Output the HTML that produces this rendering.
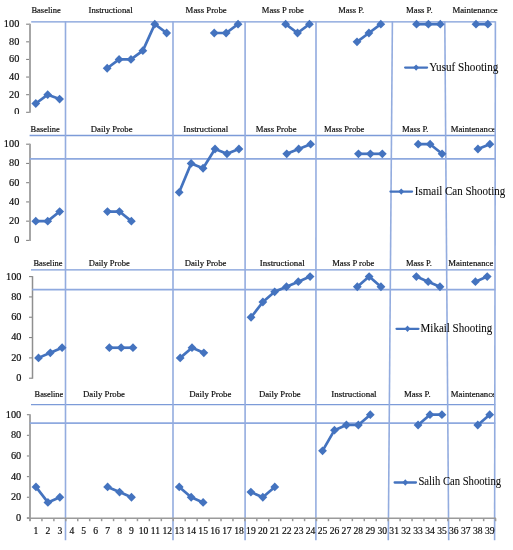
<!DOCTYPE html>
<html><head><meta charset="utf-8"><title>Shooting chart</title>
<style>
html,body{margin:0;padding:0;background:#fff;}
svg{display:block;}
text{font-family:"Liberation Serif",serif;fill:#0a0a0a;stroke:#111;stroke-width:0.18px;}
.ph{font-size:8.6px;}
.yl{font-size:10.3px;}
.xl{font-size:9.6px;}
.lg{font-size:11.6px;stroke-width:0.08px;}
</style></head><body>
<svg width="513" height="550" viewBox="0 0 513 550">
<defs><clipPath id="cl"><rect x="0" y="0" width="494.6" height="550"/></clipPath><clipPath id="yc0"><rect x="0" y="0" width="513" height="113.9"/></clipPath></defs>
<rect width="513" height="550" fill="#fff"/>
<g stroke="#858585" stroke-width="1.1" fill="none"><line x1="26.1" y1="112.3" x2="30" y2="112.3"/><line x1="26.1" y1="94.68" x2="30" y2="94.68"/><line x1="26.1" y1="77.06" x2="30" y2="77.06"/><line x1="26.1" y1="59.44" x2="30" y2="59.44"/><line x1="26.1" y1="41.82" x2="30" y2="41.82"/><line x1="26.1" y1="24.2" x2="30" y2="24.2"/><line x1="30" y1="23.7" x2="30" y2="112.8" stroke="#a6a6a6" stroke-width="2"/></g>
<g clip-path="url(#yc0)"><text class="yl" x="19.3" y="115.2" text-anchor="end">0</text><text class="yl" x="19.3" y="97.58" text-anchor="end">20</text><text class="yl" x="19.3" y="79.96" text-anchor="end">40</text><text class="yl" x="19.3" y="62.34" text-anchor="end">60</text><text class="yl" x="19.3" y="44.72" text-anchor="end">80</text><text class="yl" x="19.3" y="27.1" text-anchor="end">100</text></g>
<line x1="31.2" y1="21.9" x2="495.3" y2="21.9" stroke="#7c9bd8" stroke-width="1.4"/>
<g><text class="ph" x="31.4" y="12.7" textLength="29.3" lengthAdjust="spacingAndGlyphs">Baseline</text><text class="ph" x="88.5" y="12.7" textLength="44.1" lengthAdjust="spacingAndGlyphs">Instructional</text><text class="ph" x="185.6" y="12.7" textLength="41.1" lengthAdjust="spacingAndGlyphs">Mass Probe</text><text class="ph" x="261.8" y="12.7" textLength="42.1" lengthAdjust="spacingAndGlyphs">Mass P robe</text><text class="ph" x="338.3" y="12.7" textLength="25.8" lengthAdjust="spacingAndGlyphs">Mass P.</text><text class="ph" x="406" y="12.7" textLength="26.7" lengthAdjust="spacingAndGlyphs">Mass P.</text><text class="ph" x="452.4" y="12.7" textLength="45.3" lengthAdjust="spacingAndGlyphs">Maintenance</text></g>
<g stroke="#858585" stroke-width="1.1" fill="none"><line x1="26.1" y1="240.4" x2="30" y2="240.4"/><line x1="26.1" y1="221.16" x2="30" y2="221.16"/><line x1="26.1" y1="201.92" x2="30" y2="201.92"/><line x1="26.1" y1="182.68" x2="30" y2="182.68"/><line x1="26.1" y1="163.44" x2="30" y2="163.44"/><line x1="26.1" y1="144.2" x2="30" y2="144.2"/><line x1="30" y1="143.7" x2="30" y2="240.9" stroke="#a6a6a6" stroke-width="2"/></g>
<g><text class="yl" x="19.3" y="243.3" text-anchor="end">0</text><text class="yl" x="19.3" y="224.06" text-anchor="end">20</text><text class="yl" x="19.3" y="204.82" text-anchor="end">40</text><text class="yl" x="19.3" y="185.58" text-anchor="end">60</text><text class="yl" x="19.3" y="166.34" text-anchor="end">80</text><text class="yl" x="19.3" y="147.1" text-anchor="end">100</text></g>
<line x1="29.6" y1="135.5" x2="495.3" y2="135.5" stroke="#7c9bd8" stroke-width="1.4"/><line x1="29.7" y1="158.8" x2="495.3" y2="158.8" stroke="#8ea9df" stroke-width="1.7"/>
<g clip-path="url(#cl)"><text class="ph" x="30.6" y="131.8" textLength="29.2" lengthAdjust="spacingAndGlyphs">Baseline</text><text class="ph" x="90.8" y="131.8" textLength="41.7" lengthAdjust="spacingAndGlyphs">Daily Probe</text><text class="ph" x="183.3" y="131.8" textLength="44.9" lengthAdjust="spacingAndGlyphs">Instructional</text><text class="ph" x="255.7" y="131.8" textLength="40.8" lengthAdjust="spacingAndGlyphs">Mass Probe</text><text class="ph" x="324" y="131.8" textLength="40.3" lengthAdjust="spacingAndGlyphs">Mass Probe</text><text class="ph" x="402" y="131.8" textLength="26.5" lengthAdjust="spacingAndGlyphs">Mass P.</text><text class="ph" x="450.8" y="131.8" textLength="44.8" lengthAdjust="spacingAndGlyphs">Maintenance</text></g>
<g stroke="#858585" stroke-width="1.1" fill="none"><line x1="29" y1="378.2" x2="32.5" y2="378.2"/><line x1="29" y1="357.88" x2="32.5" y2="357.88"/><line x1="29" y1="337.56" x2="32.5" y2="337.56"/><line x1="29" y1="317.24" x2="32.5" y2="317.24"/><line x1="29" y1="296.92" x2="32.5" y2="296.92"/><line x1="29" y1="276.6" x2="32.5" y2="276.6"/><line x1="32.5" y1="276.1" x2="32.5" y2="378.7" stroke="#8f8f8f" stroke-width="1.5"/></g>
<g><text class="yl" x="21.5" y="381.1" text-anchor="end">0</text><text class="yl" x="21.5" y="360.78" text-anchor="end">20</text><text class="yl" x="21.5" y="340.46" text-anchor="end">40</text><text class="yl" x="21.5" y="320.14" text-anchor="end">60</text><text class="yl" x="21.5" y="299.82" text-anchor="end">80</text><text class="yl" x="21.5" y="279.5" text-anchor="end">100</text></g>
<line x1="31" y1="269.9" x2="495.3" y2="269.9" stroke="#7c9bd8" stroke-width="1.4"/><line x1="32.2" y1="289.6" x2="495.3" y2="289.6" stroke="#8ea9df" stroke-width="1.7"/>
<g><text class="ph" x="33.5" y="265.6" textLength="29" lengthAdjust="spacingAndGlyphs">Baseline</text><text class="ph" x="88.8" y="265.6" textLength="40.9" lengthAdjust="spacingAndGlyphs">Daily Probe</text><text class="ph" x="184.7" y="265.6" textLength="41.7" lengthAdjust="spacingAndGlyphs">Daily Probe</text><text class="ph" x="259.8" y="265.6" textLength="44.9" lengthAdjust="spacingAndGlyphs">Instructional</text><text class="ph" x="332.2" y="265.6" textLength="42.1" lengthAdjust="spacingAndGlyphs">Mass P robe</text><text class="ph" x="405.9" y="265.6" textLength="26" lengthAdjust="spacingAndGlyphs">Mass P.</text><text class="ph" x="448.2" y="265.6" textLength="45.1" lengthAdjust="spacingAndGlyphs">Maintenance</text></g>
<g stroke="#858585" stroke-width="1.1" fill="none"><line x1="26.9" y1="517.9" x2="30" y2="517.9"/><line x1="26.9" y1="497.26" x2="30" y2="497.26"/><line x1="26.9" y1="476.62" x2="30" y2="476.62"/><line x1="26.9" y1="455.98" x2="30" y2="455.98"/><line x1="26.9" y1="435.34" x2="30" y2="435.34"/><line x1="26.9" y1="414.7" x2="30" y2="414.7"/><line x1="30" y1="414.2" x2="30" y2="520.9" stroke="#a6a6a6" stroke-width="2"/></g>
<g><text class="yl" x="21.2" y="520.8" text-anchor="end">0</text><text class="yl" x="21.2" y="500.16" text-anchor="end">20</text><text class="yl" x="21.2" y="479.52" text-anchor="end">40</text><text class="yl" x="21.2" y="458.88" text-anchor="end">60</text><text class="yl" x="21.2" y="438.24" text-anchor="end">80</text><text class="yl" x="21.2" y="417.6" text-anchor="end">100</text></g>
<line x1="31" y1="404.6" x2="495.3" y2="404.6" stroke="#7c9bd8" stroke-width="1.4"/><line x1="29.7" y1="423.2" x2="495.3" y2="423.2" stroke="#8ea9df" stroke-width="1.7"/>
<g clip-path="url(#cl)"><text class="ph" x="34.6" y="397.2" textLength="28.6" lengthAdjust="spacingAndGlyphs">Baseline</text><text class="ph" x="83" y="397.2" textLength="42" lengthAdjust="spacingAndGlyphs">Daily Probe</text><text class="ph" x="189.3" y="397.2" textLength="42.1" lengthAdjust="spacingAndGlyphs">Daily Probe</text><text class="ph" x="258.9" y="397.2" textLength="41.7" lengthAdjust="spacingAndGlyphs">Daily Probe</text><text class="ph" x="331.3" y="397.2" textLength="45.3" lengthAdjust="spacingAndGlyphs">Instructional</text><text class="ph" x="403.9" y="397.2" textLength="26.7" lengthAdjust="spacingAndGlyphs">Mass P.</text><text class="ph" x="450.8" y="397.2" textLength="45.2" lengthAdjust="spacingAndGlyphs">Maintenance</text></g>
<g stroke="#93acdf" stroke-width="1.6" fill="none"><line x1="65.5" y1="21.3" x2="65.5" y2="540.3"/><line x1="173" y1="21.3" x2="173" y2="540.3"/><line x1="245.1" y1="21.3" x2="245.1" y2="540.3"/><line x1="316" y1="21.3" x2="315.9" y2="540.3"/><line x1="392.4" y1="21.3" x2="388.3" y2="540.3"/><line x1="444.8" y1="21.3" x2="448.7" y2="540.3"/><line x1="495.4" y1="21.3" x2="494.6" y2="540.3"/></g>
<line x1="405.15" y1="67.6" x2="427.05" y2="67.6" stroke="#4473bf" stroke-width="2.3" stroke-linecap="round"/><path d="M416.1 64.4L419 67.6L416.1 70.8L413.2 67.6Z" fill="#4473bf"/><text class="lg" x="429.3" y="70.9" textLength="69" lengthAdjust="spacingAndGlyphs">Yusuf Shooting</text>
<line x1="390.45" y1="191.6" x2="412.05" y2="191.6" stroke="#4473bf" stroke-width="2.3" stroke-linecap="round"/><path d="M401.25 188.4L404.15 191.6L401.25 194.8L398.35 191.6Z" fill="#4473bf"/><text class="lg" x="414.8" y="194.7" textLength="90.4" lengthAdjust="spacingAndGlyphs">Ismail Can Shooting</text>
<line x1="396.55" y1="328.8" x2="418.45" y2="328.8" stroke="#4473bf" stroke-width="2.3" stroke-linecap="round"/><path d="M407.5 325.6L410.4 328.8L407.5 332L404.6 328.8Z" fill="#4473bf"/><text class="lg" x="420.6" y="331.9" textLength="71.7" lengthAdjust="spacingAndGlyphs">Mikail Shooting</text>
<line x1="394.65" y1="482.5" x2="415.95" y2="482.5" stroke="#4473bf" stroke-width="2.3" stroke-linecap="round"/><path d="M405.3 479.3L408.2 482.5L405.3 485.7L402.4 482.5Z" fill="#4473bf"/><text class="lg" x="418.4" y="485.4" textLength="82.7" lengthAdjust="spacingAndGlyphs">Salih Can Shooting</text>
<polyline points="35.8,103.49 47.7,94.68 59.59,99.08" fill="none" stroke="#4473bf" stroke-width="2.7" stroke-linejoin="round"/><path d="M35.8 99.09L40.2 103.49L35.8 107.89L31.4 103.49Z" fill="#4473bf"/><path d="M47.7 90.28L52.1 94.68L47.7 99.08L43.3 94.68Z" fill="#4473bf"/><path d="M59.59 94.68L63.99 99.08L59.59 103.48L55.19 99.08Z" fill="#4473bf"/>
<polyline points="107.18,68.25 119.08,59.44 130.97,59.44 142.87,50.63 154.77,24.2 166.67,33.01" fill="none" stroke="#4473bf" stroke-width="2.7" stroke-linejoin="round"/><path d="M107.18 63.85L111.58 68.25L107.18 72.65L102.78 68.25Z" fill="#4473bf"/><path d="M119.08 55.04L123.48 59.44L119.08 63.84L114.68 59.44Z" fill="#4473bf"/><path d="M130.97 55.04L135.37 59.44L130.97 63.84L126.57 59.44Z" fill="#4473bf"/><path d="M142.87 46.23L147.27 50.63L142.87 55.03L138.47 50.63Z" fill="#4473bf"/><path d="M154.77 19.8L159.17 24.2L154.77 28.6L150.37 24.2Z" fill="#4473bf"/><path d="M166.67 28.61L171.07 33.01L166.67 37.41L162.27 33.01Z" fill="#4473bf"/>
<polyline points="214.25,33.01 226.15,33.01 238.05,24.2" fill="none" stroke="#4473bf" stroke-width="2.7" stroke-linejoin="round"/><path d="M214.25 28.61L218.65 33.01L214.25 37.41L209.85 33.01Z" fill="#4473bf"/><path d="M226.15 28.61L230.55 33.01L226.15 37.41L221.75 33.01Z" fill="#4473bf"/><path d="M238.05 19.8L242.45 24.2L238.05 28.6L233.65 24.2Z" fill="#4473bf"/>
<polyline points="285.64,24.2 297.53,33.01 309.43,24.2" fill="none" stroke="#4473bf" stroke-width="2.7" stroke-linejoin="round"/><path d="M285.64 19.8L290.04 24.2L285.64 28.6L281.24 24.2Z" fill="#4473bf"/><path d="M297.53 28.61L301.93 33.01L297.53 37.41L293.13 33.01Z" fill="#4473bf"/><path d="M309.43 19.8L313.83 24.2L309.43 28.6L305.03 24.2Z" fill="#4473bf"/>
<polyline points="357.02,41.82 368.91,33.01 380.81,24.2" fill="none" stroke="#4473bf" stroke-width="2.7" stroke-linejoin="round"/><path d="M357.02 37.42L361.42 41.82L357.02 46.22L352.62 41.82Z" fill="#4473bf"/><path d="M368.91 28.61L373.31 33.01L368.91 37.41L364.51 33.01Z" fill="#4473bf"/><path d="M380.81 19.8L385.21 24.2L380.81 28.6L376.41 24.2Z" fill="#4473bf"/>
<polyline points="416.5,24.2 428.4,24.2 440.3,24.2" fill="none" stroke="#4473bf" stroke-width="2.7" stroke-linejoin="round"/><path d="M416.5 19.8L420.9 24.2L416.5 28.6L412.1 24.2Z" fill="#4473bf"/><path d="M428.4 19.8L432.8 24.2L428.4 28.6L424 24.2Z" fill="#4473bf"/><path d="M440.3 19.8L444.7 24.2L440.3 28.6L435.9 24.2Z" fill="#4473bf"/>
<polyline points="475.99,24.2 487.88,24.2" fill="none" stroke="#4473bf" stroke-width="2.7" stroke-linejoin="round"/><path d="M475.99 19.8L480.39 24.2L475.99 28.6L471.59 24.2Z" fill="#4473bf"/><path d="M487.88 19.8L492.28 24.2L487.88 28.6L483.48 24.2Z" fill="#4473bf"/>
<polyline points="35.77,221.16 47.72,221.16 59.67,211.54" fill="none" stroke="#4473bf" stroke-width="2.7" stroke-linejoin="round"/><path d="M35.77 216.76L40.17 221.16L35.77 225.56L31.38 221.16Z" fill="#4473bf"/><path d="M47.72 216.76L52.12 221.16L47.72 225.56L43.32 221.16Z" fill="#4473bf"/><path d="M59.67 207.14L64.08 211.54L59.67 215.94L55.27 211.54Z" fill="#4473bf"/>
<polyline points="107.47,211.54 119.42,211.54 131.38,221.16" fill="none" stroke="#4473bf" stroke-width="2.7" stroke-linejoin="round"/><path d="M107.47 207.14L111.88 211.54L107.47 215.94L103.07 211.54Z" fill="#4473bf"/><path d="M119.42 207.14L123.83 211.54L119.42 215.94L115.02 211.54Z" fill="#4473bf"/><path d="M131.38 216.76L135.78 221.16L131.38 225.56L126.97 221.16Z" fill="#4473bf"/>
<polyline points="179.18,192.3 191.12,163.44 203.07,168.25 215.03,149.01 226.97,153.82 238.93,149.01" fill="none" stroke="#4473bf" stroke-width="2.7" stroke-linejoin="round"/><path d="M179.18 187.9L183.58 192.3L179.18 196.7L174.78 192.3Z" fill="#4473bf"/><path d="M191.12 159.04L195.53 163.44L191.12 167.84L186.72 163.44Z" fill="#4473bf"/><path d="M203.07 163.85L207.47 168.25L203.07 172.65L198.67 168.25Z" fill="#4473bf"/><path d="M215.03 144.61L219.43 149.01L215.03 153.41L210.62 149.01Z" fill="#4473bf"/><path d="M226.97 149.42L231.38 153.82L226.97 158.22L222.57 153.82Z" fill="#4473bf"/><path d="M238.93 144.61L243.33 149.01L238.93 153.41L234.53 149.01Z" fill="#4473bf"/>
<polyline points="286.73,153.82 298.68,149.01 310.62,144.2" fill="none" stroke="#4473bf" stroke-width="2.7" stroke-linejoin="round"/><path d="M286.73 149.42L291.12 153.82L286.73 158.22L282.33 153.82Z" fill="#4473bf"/><path d="M298.68 144.61L303.07 149.01L298.68 153.41L294.28 149.01Z" fill="#4473bf"/><path d="M310.62 139.8L315.02 144.2L310.62 148.6L306.23 144.2Z" fill="#4473bf"/>
<polyline points="358.43,153.82 370.38,153.82 382.32,153.82" fill="none" stroke="#4473bf" stroke-width="2.7" stroke-linejoin="round"/><path d="M358.43 149.42L362.82 153.82L358.43 158.22L354.03 153.82Z" fill="#4473bf"/><path d="M370.38 149.42L374.77 153.82L370.38 158.22L365.98 153.82Z" fill="#4473bf"/><path d="M382.32 149.42L386.72 153.82L382.32 158.22L377.93 153.82Z" fill="#4473bf"/>
<polyline points="418.18,144.2 430.12,144.2 442.07,153.82" fill="none" stroke="#4473bf" stroke-width="2.7" stroke-linejoin="round"/><path d="M418.18 139.8L422.57 144.2L418.18 148.6L413.78 144.2Z" fill="#4473bf"/><path d="M430.12 139.8L434.52 144.2L430.12 148.6L425.73 144.2Z" fill="#4473bf"/><path d="M442.07 149.42L446.47 153.82L442.07 158.22L437.68 153.82Z" fill="#4473bf"/>
<polyline points="477.93,149.01 489.88,144.2" fill="none" stroke="#4473bf" stroke-width="2.7" stroke-linejoin="round"/><path d="M477.93 144.61L482.32 149.01L477.93 153.41L473.53 149.01Z" fill="#4473bf"/><path d="M489.88 139.8L494.27 144.2L489.88 148.6L485.48 144.2Z" fill="#4473bf"/>
<polyline points="38.5,357.88 50.31,352.8 62.12,347.72" fill="none" stroke="#4473bf" stroke-width="2.7" stroke-linejoin="round"/><path d="M38.5 353.48L42.9 357.88L38.5 362.28L34.1 357.88Z" fill="#4473bf"/><path d="M50.31 348.4L54.71 352.8L50.31 357.2L45.91 352.8Z" fill="#4473bf"/><path d="M62.12 343.32L66.52 347.72L62.12 352.12L57.72 347.72Z" fill="#4473bf"/>
<polyline points="109.35,347.72 121.16,347.72 132.97,347.72" fill="none" stroke="#4473bf" stroke-width="2.7" stroke-linejoin="round"/><path d="M109.35 343.32L113.75 347.72L109.35 352.12L104.95 347.72Z" fill="#4473bf"/><path d="M121.16 343.32L125.56 347.72L121.16 352.12L116.76 347.72Z" fill="#4473bf"/><path d="M132.97 343.32L137.37 347.72L132.97 352.12L128.57 347.72Z" fill="#4473bf"/>
<polyline points="180.2,357.88 192.01,347.72 203.82,352.8" fill="none" stroke="#4473bf" stroke-width="2.7" stroke-linejoin="round"/><path d="M180.2 353.48L184.6 357.88L180.2 362.28L175.8 357.88Z" fill="#4473bf"/><path d="M192.01 343.32L196.41 347.72L192.01 352.12L187.61 347.72Z" fill="#4473bf"/><path d="M203.82 348.4L208.22 352.8L203.82 357.2L199.42 352.8Z" fill="#4473bf"/>
<polyline points="251.05,317.24 262.86,302 274.66,291.84 286.47,286.76 298.28,281.68 310.09,276.6" fill="none" stroke="#4473bf" stroke-width="2.7" stroke-linejoin="round"/><path d="M251.05 312.84L255.45 317.24L251.05 321.64L246.65 317.24Z" fill="#4473bf"/><path d="M262.86 297.6L267.26 302L262.86 306.4L258.46 302Z" fill="#4473bf"/><path d="M274.66 287.44L279.06 291.84L274.66 296.24L270.26 291.84Z" fill="#4473bf"/><path d="M286.47 282.36L290.87 286.76L286.47 291.16L282.07 286.76Z" fill="#4473bf"/><path d="M298.28 277.28L302.68 281.68L298.28 286.08L293.88 281.68Z" fill="#4473bf"/><path d="M310.09 272.2L314.49 276.6L310.09 281L305.69 276.6Z" fill="#4473bf"/>
<polyline points="357.32,286.76 369.13,276.6 380.94,286.76" fill="none" stroke="#4473bf" stroke-width="2.7" stroke-linejoin="round"/><path d="M357.32 282.36L361.72 286.76L357.32 291.16L352.92 286.76Z" fill="#4473bf"/><path d="M369.13 272.2L373.53 276.6L369.13 281L364.73 276.6Z" fill="#4473bf"/><path d="M380.94 282.36L385.34 286.76L380.94 291.16L376.54 286.76Z" fill="#4473bf"/>
<polyline points="416.36,276.6 428.17,281.68 439.98,286.76" fill="none" stroke="#4473bf" stroke-width="2.7" stroke-linejoin="round"/><path d="M416.36 272.2L420.76 276.6L416.36 281L411.96 276.6Z" fill="#4473bf"/><path d="M428.17 277.28L432.57 281.68L428.17 286.08L423.77 281.68Z" fill="#4473bf"/><path d="M439.98 282.36L444.38 286.76L439.98 291.16L435.58 286.76Z" fill="#4473bf"/>
<polyline points="475.4,281.68 487.21,276.6" fill="none" stroke="#4473bf" stroke-width="2.7" stroke-linejoin="round"/><path d="M475.4 277.28L479.8 281.68L475.4 286.08L471 281.68Z" fill="#4473bf"/><path d="M487.21 272.2L491.61 276.6L487.21 281L482.81 276.6Z" fill="#4473bf"/>
<polyline points="35.97,486.94 47.91,502.42 59.85,497.26" fill="none" stroke="#4473bf" stroke-width="2.7" stroke-linejoin="round"/><path d="M35.97 482.54L40.37 486.94L35.97 491.34L31.57 486.94Z" fill="#4473bf"/><path d="M47.91 498.02L52.31 502.42L47.91 506.82L43.51 502.42Z" fill="#4473bf"/><path d="M59.85 492.86L64.25 497.26L59.85 501.66L55.45 497.26Z" fill="#4473bf"/>
<polyline points="107.61,486.94 119.55,492.1 131.49,497.26" fill="none" stroke="#4473bf" stroke-width="2.7" stroke-linejoin="round"/><path d="M107.61 482.54L112.01 486.94L107.61 491.34L103.21 486.94Z" fill="#4473bf"/><path d="M119.55 487.7L123.95 492.1L119.55 496.5L115.15 492.1Z" fill="#4473bf"/><path d="M131.49 492.86L135.89 497.26L131.49 501.66L127.09 497.26Z" fill="#4473bf"/>
<polyline points="179.25,486.94 191.19,497.26 203.13,502.42" fill="none" stroke="#4473bf" stroke-width="2.7" stroke-linejoin="round"/><path d="M179.25 482.54L183.65 486.94L179.25 491.34L174.85 486.94Z" fill="#4473bf"/><path d="M191.19 492.86L195.59 497.26L191.19 501.66L186.79 497.26Z" fill="#4473bf"/><path d="M203.13 498.02L207.53 502.42L203.13 506.82L198.73 502.42Z" fill="#4473bf"/>
<polyline points="250.89,492.1 262.83,497.26 274.77,486.94" fill="none" stroke="#4473bf" stroke-width="2.7" stroke-linejoin="round"/><path d="M250.89 487.7L255.29 492.1L250.89 496.5L246.49 492.1Z" fill="#4473bf"/><path d="M262.83 492.86L267.23 497.26L262.83 501.66L258.43 497.26Z" fill="#4473bf"/><path d="M274.77 482.54L279.17 486.94L274.77 491.34L270.37 486.94Z" fill="#4473bf"/>
<polyline points="322.53,450.82 334.47,430.18 346.41,425.02 358.35,425.02 370.29,414.7" fill="none" stroke="#4473bf" stroke-width="2.7" stroke-linejoin="round"/><path d="M322.53 446.42L326.93 450.82L322.53 455.22L318.13 450.82Z" fill="#4473bf"/><path d="M334.47 425.78L338.87 430.18L334.47 434.58L330.07 430.18Z" fill="#4473bf"/><path d="M346.41 420.62L350.81 425.02L346.41 429.42L342.01 425.02Z" fill="#4473bf"/><path d="M358.35 420.62L362.75 425.02L358.35 429.42L353.95 425.02Z" fill="#4473bf"/><path d="M370.29 410.3L374.69 414.7L370.29 419.1L365.89 414.7Z" fill="#4473bf"/>
<polyline points="418.05,425.02 429.99,414.7 441.93,414.7" fill="none" stroke="#4473bf" stroke-width="2.7" stroke-linejoin="round"/><path d="M418.05 420.62L422.45 425.02L418.05 429.42L413.65 425.02Z" fill="#4473bf"/><path d="M429.99 410.3L434.39 414.7L429.99 419.1L425.59 414.7Z" fill="#4473bf"/><path d="M441.93 410.3L446.33 414.7L441.93 419.1L437.53 414.7Z" fill="#4473bf"/>
<polyline points="477.75,425.02 489.69,414.7" fill="none" stroke="#4473bf" stroke-width="2.7" stroke-linejoin="round"/><path d="M477.75 420.62L482.15 425.02L477.75 429.42L473.35 425.02Z" fill="#4473bf"/><path d="M489.69 410.3L494.09 414.7L489.69 419.1L485.29 414.7Z" fill="#4473bf"/>
<g stroke="#9a9a9a" stroke-width="1.5" fill="none"><line x1="26.9" y1="518.3" x2="495.9" y2="518.3"/><line x1="30" y1="518.3" x2="30" y2="521.2"/><line x1="41.94" y1="518.3" x2="41.94" y2="521.2"/><line x1="53.88" y1="518.3" x2="53.88" y2="521.2"/><line x1="65.82" y1="518.3" x2="65.82" y2="521.2"/><line x1="77.75" y1="518.3" x2="77.75" y2="521.2"/><line x1="89.69" y1="518.3" x2="89.69" y2="521.2"/><line x1="101.63" y1="518.3" x2="101.63" y2="521.2"/><line x1="113.57" y1="518.3" x2="113.57" y2="521.2"/><line x1="125.51" y1="518.3" x2="125.51" y2="521.2"/><line x1="137.45" y1="518.3" x2="137.45" y2="521.2"/><line x1="149.38" y1="518.3" x2="149.38" y2="521.2"/><line x1="161.32" y1="518.3" x2="161.32" y2="521.2"/><line x1="173.26" y1="518.3" x2="173.26" y2="521.2"/><line x1="185.2" y1="518.3" x2="185.2" y2="521.2"/><line x1="197.14" y1="518.3" x2="197.14" y2="521.2"/><line x1="209.08" y1="518.3" x2="209.08" y2="521.2"/><line x1="221.02" y1="518.3" x2="221.02" y2="521.2"/><line x1="232.95" y1="518.3" x2="232.95" y2="521.2"/><line x1="244.89" y1="518.3" x2="244.89" y2="521.2"/><line x1="256.83" y1="518.3" x2="256.83" y2="521.2"/><line x1="268.77" y1="518.3" x2="268.77" y2="521.2"/><line x1="280.71" y1="518.3" x2="280.71" y2="521.2"/><line x1="292.65" y1="518.3" x2="292.65" y2="521.2"/><line x1="304.58" y1="518.3" x2="304.58" y2="521.2"/><line x1="316.52" y1="518.3" x2="316.52" y2="521.2"/><line x1="328.46" y1="518.3" x2="328.46" y2="521.2"/><line x1="340.4" y1="518.3" x2="340.4" y2="521.2"/><line x1="352.34" y1="518.3" x2="352.34" y2="521.2"/><line x1="364.28" y1="518.3" x2="364.28" y2="521.2"/><line x1="376.22" y1="518.3" x2="376.22" y2="521.2"/><line x1="388.15" y1="518.3" x2="388.15" y2="521.2"/><line x1="400.09" y1="518.3" x2="400.09" y2="521.2"/><line x1="412.03" y1="518.3" x2="412.03" y2="521.2"/><line x1="423.97" y1="518.3" x2="423.97" y2="521.2"/><line x1="435.91" y1="518.3" x2="435.91" y2="521.2"/><line x1="447.85" y1="518.3" x2="447.85" y2="521.2"/><line x1="459.78" y1="518.3" x2="459.78" y2="521.2"/><line x1="471.72" y1="518.3" x2="471.72" y2="521.2"/><line x1="483.66" y1="518.3" x2="483.66" y2="521.2"/><line x1="495.6" y1="518.3" x2="495.6" y2="521.2"/></g>
<text class="xl" x="35.97" y="533.8" text-anchor="middle">1</text><text class="xl" x="47.91" y="533.8" text-anchor="middle">2</text><text class="xl" x="59.85" y="533.8" text-anchor="middle">3</text><text class="xl" x="71.79" y="533.8" text-anchor="middle">4</text><text class="xl" x="83.73" y="533.8" text-anchor="middle">5</text><text class="xl" x="95.67" y="533.8" text-anchor="middle">6</text><text class="xl" x="107.61" y="533.8" text-anchor="middle">7</text><text class="xl" x="119.55" y="533.8" text-anchor="middle">8</text><text class="xl" x="131.49" y="533.8" text-anchor="middle">9</text><text class="xl" x="143.43" y="533.8" text-anchor="middle">10</text><text class="xl" x="155.37" y="533.8" text-anchor="middle">11</text><text class="xl" x="167.31" y="533.8" text-anchor="middle">12</text><text class="xl" x="179.25" y="533.8" text-anchor="middle">13</text><text class="xl" x="191.19" y="533.8" text-anchor="middle">14</text><text class="xl" x="203.13" y="533.8" text-anchor="middle">15</text><text class="xl" x="215.07" y="533.8" text-anchor="middle">16</text><text class="xl" x="227.01" y="533.8" text-anchor="middle">17</text><text class="xl" x="238.95" y="533.8" text-anchor="middle">18</text><text class="xl" x="250.89" y="533.8" text-anchor="middle">19</text><text class="xl" x="262.83" y="533.8" text-anchor="middle">20</text><text class="xl" x="274.77" y="533.8" text-anchor="middle">21</text><text class="xl" x="286.71" y="533.8" text-anchor="middle">22</text><text class="xl" x="298.65" y="533.8" text-anchor="middle">23</text><text class="xl" x="310.59" y="533.8" text-anchor="middle">24</text><text class="xl" x="322.53" y="533.8" text-anchor="middle">25</text><text class="xl" x="334.47" y="533.8" text-anchor="middle">26</text><text class="xl" x="346.41" y="533.8" text-anchor="middle">27</text><text class="xl" x="358.35" y="533.8" text-anchor="middle">28</text><text class="xl" x="370.29" y="533.8" text-anchor="middle">29</text><text class="xl" x="382.23" y="533.8" text-anchor="middle">30</text><text class="xl" x="394.17" y="533.8" text-anchor="middle">31</text><text class="xl" x="406.11" y="533.8" text-anchor="middle">32</text><text class="xl" x="418.05" y="533.8" text-anchor="middle">33</text><text class="xl" x="429.99" y="533.8" text-anchor="middle">34</text><text class="xl" x="441.93" y="533.8" text-anchor="middle">35</text><text class="xl" x="453.87" y="533.8" text-anchor="middle">36</text><text class="xl" x="465.81" y="533.8" text-anchor="middle">37</text><text class="xl" x="477.75" y="533.8" text-anchor="middle">38</text><text class="xl" x="489.69" y="533.8" text-anchor="middle">39</text>
</svg>
</body></html>
